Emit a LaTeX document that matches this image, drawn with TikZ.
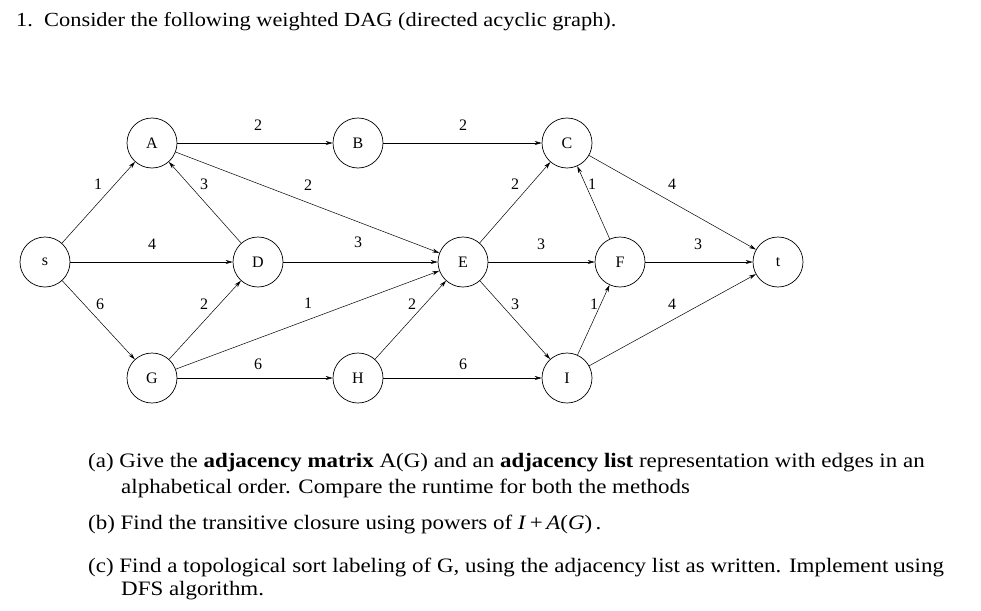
\documentclass[tikz,border=0pt]{standalone}
\usepackage{fontspec}
\setmainfont{Liberation Serif}
\newfontfamily\bodyfont[FakeStretch=1.12]{Liberation Serif}
\usetikzlibrary{arrows.meta}
\begin{document}
\begin{tikzpicture}[x=1pt,y=-1pt,
 vtx/.style={circle,draw,line width=0.7pt,minimum size=50pt,inner sep=0pt,font=\fontsize{16}{18}\selectfont},
 ed/.style={-{Stealth[length=7pt,width=4pt]},line width=0.5pt},
 wl/.style={font=\fontsize{16}{18}\selectfont,inner sep=1pt},
 txt/.style={anchor=west,font=\bodyfont\fontsize{20.5}{23}\selectfont,inner sep=0pt}]
\useasboundingbox (0,0) rectangle (981,610);
\node[anchor=west,font=\bodyfont\fontsize{20}{23}\selectfont,inner sep=0pt] (title) at (16,22) {1.\ \ Consider the following weighted DAG (directed acyclic graph).};
\node[vtx] (s) at (45,262) {s};
\node[vtx] (A) at (152,143) {A};
\node[vtx] (D) at (258,262) {D};
\node[vtx] (G) at (152,378) {G};
\node[vtx] (B) at (358,143) {B};
\node[vtx] (E) at (463,262) {E};
\node[vtx] (H) at (358,378) {H};
\node[vtx] (C) at (567,143) {C};
\node[vtx] (F) at (620,262) {F};
\node[vtx] (I) at (567,378) {I};
\node[vtx] (t) at (778,262) {t};
\draw[ed] (s)--(A); \draw[ed] (s)--(D); \draw[ed] (s)--(G);
\draw[ed] (A)--(B); \draw[ed] (B)--(C); \draw[ed] (D)--(A);
\draw[ed] (G)--(D); \draw[ed] (A)--(E); \draw[ed] (D)--(E);
\draw[ed] (G)--(E); \draw[ed] (G)--(H); \draw[ed] (H)--(E);
\draw[ed] (E)--(C); \draw[ed] (E)--(F); \draw[ed] (E)--(I);
\draw[ed] (F)--(C); \draw[ed] (I)--(F); \draw[ed] (H)--(I);
\draw[ed] (C)--(t); \draw[ed] (F)--(t); \draw[ed] (I)--(t);
\node[wl] (w1) at (98,184) {1};
\node[wl] (w2) at (152,244) {4};
\node[wl] (w3) at (100,304) {6};
\node[wl] (w4) at (258,125) {2};
\node[wl] (w5) at (204,184) {3};
\node[wl] (w6) at (308,185) {2};
\node[wl] (w7) at (204,304) {2};
\node[wl] (w8) at (358,242) {3};
\node[wl] (w9) at (308,303) {1};
\node[wl] (w10) at (258,364) {6};
\node[wl] (w11) at (463,125) {2};
\node[wl] (w12) at (515,184) {2};
\node[wl] (w13) at (412,304) {2};
\node[wl] (w14) at (541,244) {3};
\node[wl] (w15) at (515,304) {3};
\node[wl] (w16) at (463,364) {6};
\node[wl] (w17) at (592,184) {1};
\node[wl] (w18) at (594,304) {1};
\node[wl] (w19) at (672,184) {4};
\node[wl] (w20) at (698,244) {3};
\node[wl] (w21) at (672,304) {4};
\node[txt] (pa) at (88,463) {(a)\ Give the \textbf{adjacency matrix} A(G) and an \textbf{adjacency list} representation with edges in an};
\node[txt] (pa2) at (121,488) {alphabetical order. Compare the runtime for both the methods};
\node[txt] (pb) at (88,524) {(b)\ Find the transitive closure using powers of \textit{I}\,+\,\textit{A}(\textit{G})\,.};
\node[txt] (pc) at (88,567) {(c)\ Find a topological sort labeling of G, using the adjacency list as written. Implement using};
\node[txt] (pc2) at (121,591) {DFS algorithm.};
\end{tikzpicture}
\end{document}
